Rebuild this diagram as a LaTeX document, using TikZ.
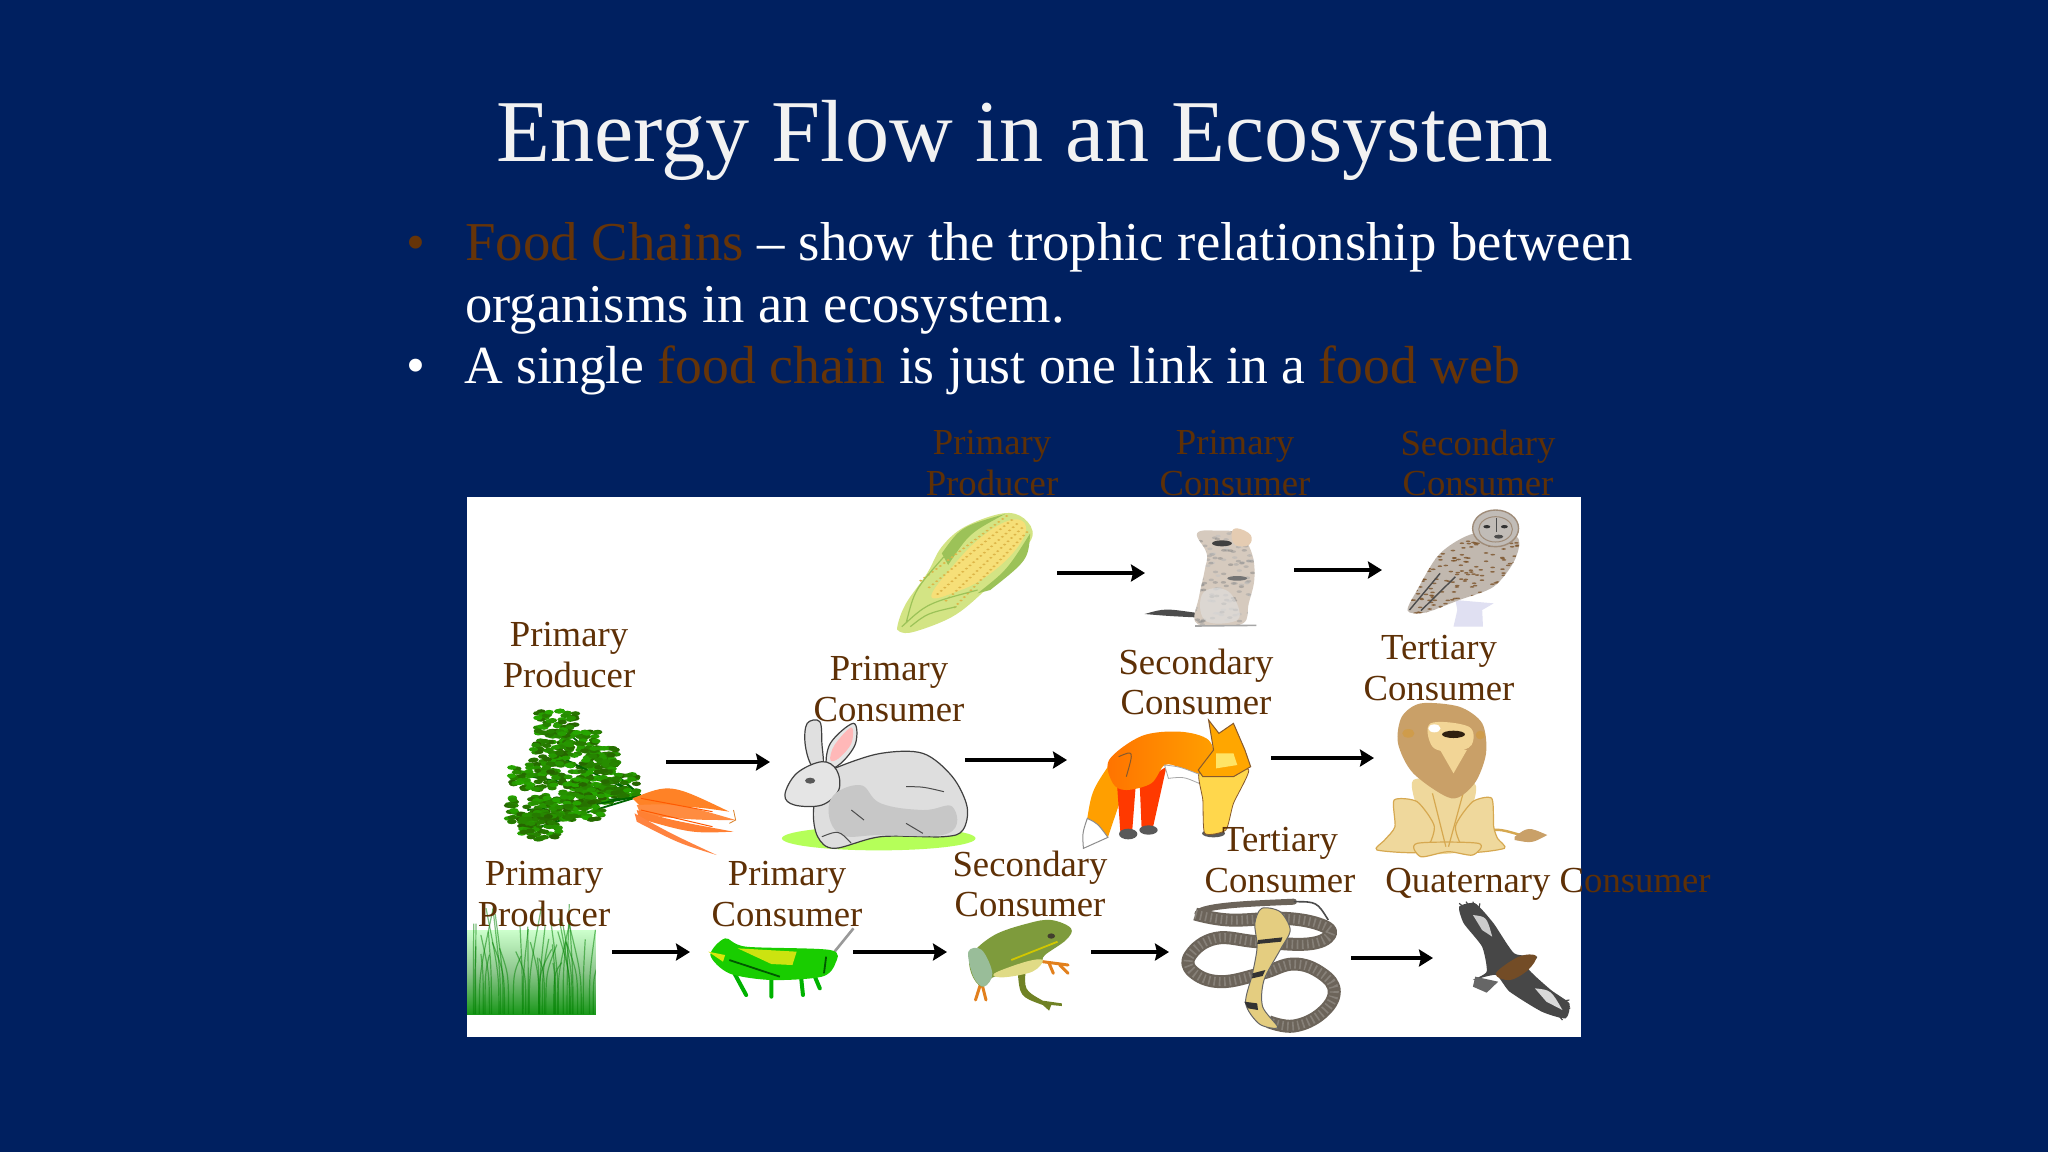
\documentclass[tikz,border=0pt]{standalone}
\usepackage{fontspec}
\setmainfont{Liberation Serif}
\usetikzlibrary{arrows.meta}
\definecolor{navy}{HTML}{002060}
\definecolor{brownt}{HTML}{5E3006}
\definecolor{brownb}{HTML}{663408}
\definecolor{husk}{HTML}{D3E484}
\definecolor{huskd}{HTML}{9CC258}
\definecolor{kern}{HTML}{F6DF78}
\definecolor{kernd}{HTML}{DDB548}
\definecolor{mane}{HTML}{C9A068}
\definecolor{lionb}{HTML}{EFD89C}
\definecolor{lionl}{HTML}{D6A850}
\definecolor{lionf}{HTML}{F2D596}
\definecolor{coil}{HTML}{6C645A}
\definecolor{hood}{HTML}{E4CD80}
\tikzset{
 z1/.style={shift={(460,490)},x=.2104pt,y=-.16667pt},
 z2/.style={shift={(1000,490)},x=.19135pt,y=-.16667pt},
 z3/.style={shift={(460,840)},x=.2104pt,y=-.16667pt},
 z4/.style={shift={(1000,840)},x=.22957pt,y=-.16667pt},
 lab/.style={align=center,text=brownt,font=\fontsize{18.35}{20.2}\selectfont,inner sep=0pt},
 bodyt/.style={anchor=base west,inner sep=0pt,text=white},
 flow/.style={draw=black,line width=2.2pt,-{Stealth[length=7pt,width=8.5pt,inset=1pt]}},
 flowthin/.style={draw=black,line width=1.6pt,-{Stealth[length=7pt,width=8.5pt,inset=1pt]}},
}
\begin{document}
\begin{tikzpicture}[x=.5pt,y=-.5pt]
\useasboundingbox (0,0) rectangle (2048,1152);
\fill[navy] (0,0) rectangle (2048,1152);
\fill[white] (467,497) rectangle (1581,1037);

% ---------- corn
\begin{scope}[z1]
\fill[husk] plot[smooth cycle,tension=.6] coordinates {(1040,405)(1060,340)(1110,250)(1145,170)(1200,110)(1290,70)(1340,85)(1360,140)(1310,220)(1240,310)(1170,380)(1080,425)(1045,425)};
\fill[huskd] (1145,190)..controls(1190,110)..(1295,72)..controls(1210,130)..(1160,225)--cycle;
\fill[huskd] (1230,310)..controls(1300,240)..(1355,130)..controls(1350,210)..(1260,300)--cycle;
\fill[kern] plot[smooth cycle,tension=.7] coordinates {(1120,320)(1170,230)(1240,140)(1310,90)(1345,110)(1320,180)(1250,260)(1180,305)};
\foreach \t in {0,.045,...,1}{\foreach \s in {-2,-1,0,1,2}{
  \fill[kernd] ({1135+\t*190+\s*(20-8*\t)},{312-\t*212+\s*(20-8*\t)}) circle[x radius=4,y radius=3];}}
\draw[huskd,line width=.6pt] (1050,410)..controls(1110,340)..(1230,300) (1060,400)..controls(1080,300)..(1150,200) (1070,410)..controls(1110,370)..(1180,350);
\end{scope}

% ---------- carrot
\begin{scope}[z1]
\pgfmathsetseed{17}
\foreach \cx/\cy in {230/700,280/760,330/810,220/790,170/860,260/880,160/960,225/950,320/900,190/1010,375/880,290/950}{
  \draw[green!40!black,line width=.9pt] (430,918)--(\cx,\cy);
  \foreach \i in {1,...,60}{
    \pgfmathsetmacro\px{\cx+(rnd-.5)*95}\pgfmathsetmacro\py{\cy+(rnd-.5)*78}
    \pgfmathsetmacro\sh{28+rnd*32}
    \fill[green!\sh!black!85!yellow] (\px,\py) circle[x radius=11,y radius=7];}}
\fill[orange!85!red!85!white] (410,925)..controls(500,880)..(640,965)..controls(560,950)..(430,950)--cycle;
\fill[orange!80!red!75!white] (420,945)..controls(520,940)..(655,990)..controls(560,990)..(430,975)--cycle;
\fill[orange!75!red!80!white] (420,960)..controls(500,990)..(650,1025)..controls(550,1030)..(425,985)--cycle;
\fill[orange!70!red!75!white] (415,970)..controls(500,1030)..(610,1095)..controls(520,1060)..(420,995)--cycle;
\draw[orange!70!red,line width=.5pt] (430,925)--(600,965) (430,960)--(600,1010);
\draw[brown!60!orange,line width=.4pt] (650,960)--(655,990)--(640,1000);
\end{scope}

% ---------- rabbit
\begin{scope}[z1]
\fill[green!45!yellow!65!white] (995,1045) ellipse[x radius=230,y radius=36];
\begin{scope}[draw=black!75,line width=.6pt]
\filldraw[fill=black!12] plot[smooth cycle,tension=.6] coordinates {(825,700)(855,695)(860,760)(862,830)(835,825)(820,760)};
\filldraw[fill=black!10] plot[smooth cycle,tension=.6] coordinates {(880,760)(935,700)(940,760)(905,820)(872,835)};
\fill[pink!80!red!70!white] plot[smooth cycle,tension=.6] coordinates {(890,765)(930,712)(930,760)(900,805)(880,810)};
\filldraw[fill=black!13] plot[smooth cycle,tension=.55] coordinates {(860,860)(900,830)(1000,790)(1100,790)(1170,860)(1205,950)(1195,1020)(1150,1040)(1000,1040)(890,1075)(850,1040)(840,960)};
\filldraw[fill=black!10] plot[smooth cycle,tension=.6] coordinates {(772,915)(800,850)(860,815)(895,840)(900,900)(860,945)(795,945)};
\end{scope}
\fill[black!22] plot[smooth cycle,tension=.7] coordinates {(880,930)(950,885)(1000,940)(1100,960)(1170,950)(1160,1030)(1000,1035)(900,1030)};
\fill[black!65] (832,872) ellipse[x radius=12,y radius=9];
\draw[black!70,line width=.5pt] (1060,890)..controls(1100,890)..(1150,905) (930,960)--(960,990) (1060,1000)--(1100,1030) (860,1040)..controls(900,1020)..(930,1060);
\end{scope}

% ---------- mouse
\begin{scope}[z2]
\fill[black!70] (378,372)..controls(430,355)..(510,368)--(510,382)..controls(440,378)..(378,372)--cycle;
\begin{scope}
\clip plot[smooth cycle,tension=.7] coordinates {(515,130)(570,122)(620,130)(655,180)(665,260)(650,340)(635,400)(560,405)(510,395)(520,320)(535,240)(540,190)};
\fill[black!38!brown!30!white] (500,110) rectangle (680,420);
\pgfmathsetseed{9}
\foreach \i in {1,...,130}{
  \pgfmathsetmacro\px{505+rnd*165}\pgfmathsetmacro\py{120+rnd*290}\pgfmathsetmacro\sh{22+rnd*28}
  \fill[black!\sh,opacity=.5] (\px,\py) circle[x radius=7,y radius=4];}
\fill[black!12,opacity=.6] plot[smooth cycle,tension=.7] coordinates {(530,310)(590,300)(625,360)(610,395)(535,390)};
\end{scope}
\fill[brown!40!white] plot[smooth cycle,tension=.7] coordinates {(605,130)(620,115)(655,135)(650,165)(615,165)};
\fill[black!75] (580,160) ellipse[x radius=26,y radius=9];
\fill[black!55] (620,265) ellipse[x radius=26,y radius=7];
\draw[black!35,line width=.8pt] (510,408)--(670,406);
\end{scope}

% ---------- owl
\begin{scope}[z2]
\fill[black!42!blue!12!white] (1190,330)--(1290,340)--(1260,360)--(1262,410)--(1185,410)--(1195,360)--cycle;
\begin{scope}
\clip plot[smooth cycle,tension=.5] coordinates {(1240,130)(1350,140)(1345,210)(1290,290)(1200,330)(1110,368)(1065,362)(1090,300)(1150,190)};
\fill[brown!40!black!35!white] (1050,110) rectangle (1360,380);
\pgfmathsetseed{4}
\foreach \i in {1,...,210}{
  \pgfmathsetmacro\px{1065+rnd*290}\pgfmathsetmacro\py{125+rnd*245}
  \fill[brown!65!black,opacity=.8] (\px,\py) circle[x radius=6,y radius=2.5];}
\end{scope}
\draw[black!70,line width=.7pt] (1070,360)--(1150,250) (1100,362)--(1190,260);
\fill[brown!25!black!30!white] (1295,115) ellipse[x radius=60,y radius=55];
\draw[brown!50!black!60!white,line width=.7pt] (1295,115) ellipse[x radius=60,y radius=55];
\draw[brown!50!black!60!white,line width=.5pt] (1295,118) ellipse[x radius=44,y radius=38];
\fill[black!80] (1272,110) ellipse[x radius=9,y radius=5] (1318,110) ellipse[x radius=9,y radius=5];
\fill[black!70] (1303,140) ellipse[x radius=12,y radius=6];
\draw[black!70,line width=.7pt] (1298,85)--(1298,125);
\end{scope}

% ---------- fox
\begin{scope}[z2]
\fill[orange!75!yellow] (300,800)..controls(240,900)..(228,985)--(282,1042)..controls(300,980)..(330,880)--cycle;
\fill[white,draw=black!45,line width=.5pt] (218,1075)..controls(215,1030)..(228,985)..controls(255,1000)..(282,1042)--cycle;
\fill[red!55!orange] (305,870)--(355,880)--(345,1030)--(315,1035)--cycle;
\fill[red!55!orange] (365,880)--(435,830)--(400,1010)--(370,1015)--cycle;
\fill[black!65] (335,1032) ellipse[x radius=24,y radius=16] (388,1020) ellipse[x radius=24,y radius=14] (558,1030) ellipse[x radius=30,y radius=12];
\shade[left color=orange!90!red,right color=orange!75!yellow] plot[smooth cycle,tension=.55] coordinates {(285,810)(370,738)(470,725)(545,750)(560,820)(520,850)(470,832)(430,825)(395,880)(330,900)(295,880)};
\fill[white,draw=black!35,line width=.4pt] (430,825)..controls(470,830)..(525,855)--(520,880)..controls(480,860)..(440,865)--cycle;
\fill[orange!45!yellow!70!white,draw=brown!70!black,line width=.4pt] plot[smooth cycle,tension=.35] coordinates {(520,850)(580,830)(650,840)(610,940)(590,1020)(535,1030)(530,930)};
\fill[orange!70!yellow,draw=brown!70!black,line width=.5pt] (545,690)--(572,730)--(610,700)--(640,780)--(655,830)--(610,860)--(530,860)--(518,840)--(558,780)--cycle;
\fill[orange!35!yellow!60!white] (565,790)--(610,790)--(620,825)--(565,835)--cycle;
\draw[brown!70!black,line width=.5pt] (310,800)..controls(350,780)..(330,860);
\end{scope}

% ---------- lion
\begin{scope}[z2]
\draw[lionl,line width=1.2pt] (1250,1030)..controls(1300,1015)..(1360,1035);
\fill[mane] (1345,1040)..controls(1380,1010)..(1430,1035)..controls(1390,1060)..(1345,1050)--cycle;
\fill[lionb] plot[smooth cycle,tension=.4] coordinates {(1080,870)(1240,880)(1220,1000)(1200,1085)(1090,1085)(1100,1000)};
\filldraw[fill=lionb,draw=lionl,line width=.6pt] plot[smooth cycle,tension=.4] coordinates {(1030,930)(1090,935)(1135,1010)(1105,1085)(985,1080)(1005,1050)(1032,1010)};
\filldraw[fill=lionb,draw=lionl,line width=.6pt] plot[smooth cycle,tension=.4] coordinates {(1285,925)(1235,935)(1190,1010)(1220,1085)(1318,1075)(1300,1045)(1290,1010)};
\filldraw[fill=lionb,draw=lionl,line width=.6pt] plot[smooth cycle,tension=.5] coordinates {(1090,1060)(1250,1060)(1235,1095)(1170,1085)(1100,1100)};
\draw[lionl,line width=.6pt] (1130,910)--(1165,1070) (1210,910)--(1172,1070);
\fill[mane] plot[smooth cycle,tension=.5] coordinates {(1100,640)(1200,650)(1260,700)(1270,790)(1240,880)(1180,925)(1080,850)(1040,760)(1050,680)};
\fill[lionf] plot[smooth cycle,tension=.6] coordinates {(1125,700)(1225,710)(1232,765)(1185,785)(1130,770)};
\fill[lionf] (1150,780)--(1220,780)--(1185,850)--cycle;
\fill[white] (1135,715) ellipse[x radius=16,y radius=12];
\fill[black!75!brown] (1185,733) ellipse[x radius=30,y radius=11];
\fill[lionl!70!brown] (1067,730) circle[x radius=16,y radius=13] (1255,735) circle[x radius=12,y radius=13];
\end{scope}

% ---------- grass
\begin{scope}[z3]
\shade[top color=green!20!white,bottom color=green!55!black!90!white,middle color=green!50!black!45!white] (17,270) rectangle (323,522);
\begin{scope}
\clip (17,165) rectangle (323,522);
\pgfmathsetseed{5}
\foreach \i in {1,...,42}{
  \pgfmathsetmacro\bx{20+rnd*300}\pgfmathsetmacro\tx{\bx+(rnd-.5)*70}\pgfmathsetmacro\ty{190+rnd*180}
  \draw[green!50!black,line width=.6pt,opacity=.5] (\bx,522)..controls(\bx,400)..(\tx,\ty);}
\end{scope}
\end{scope}

% ---------- grasshopper
\begin{scope}[z3]
\draw[black!40,line width=1.3pt] (890,335)--(935,265);
\draw[green!70!black,line width=2pt,line cap=round] (650,395)--(680,465) (740,410)--(740,470) (810,405)--(815,465) (840,400)--(855,445);
\fill[green!78!black!90!yellow] plot[smooth cycle,tension=.5] coordinates {(595,345)(630,295)(680,320)(880,330)(892,370)(860,410)(740,420)(640,400)};
\fill[yellow!85!green] (590,335)--(630,345)--(625,365)--cycle;
\fill[yellow!80!green] (660,325)--(800,335)--(790,375)--(740,372)--cycle;
\draw[green!35!black,line width=.9pt] (640,360)--(760,410) (870,350)--(865,400);
\end{scope}

% ---------- frog
\begin{scope}[z3]
\fill[olive!70!green!80!black] (1345,380)..controls(1340,450)..(1385,482)--(1430,490)--(1430,498)--(1405,495)--(1400,512)--(1385,495)..controls(1330,470)..(1325,390)--cycle;
\draw[orange!55!brown,line width=1.5pt,line cap=round] (1385,365)--(1445,375) (1400,370)--(1410,400) (1425,375)--(1445,400);
\draw[orange!55!brown,line width=1.5pt,line cap=round] (1240,420)--(1225,480) (1240,430)--(1250,480);
\fill[olive!60!green!85!black!85!white] plot[smooth cycle,tension=.6] coordinates {(1215,345)(1270,285)(1350,250)(1405,240)(1452,265)(1440,300)(1390,345)(1380,370)(1340,400)(1270,410)(1240,440)(1215,400)};
\fill[yellow!30!olive!40!white] plot[smooth cycle,tension=.6] coordinates {(1270,400)(1345,365)(1385,360)(1360,395)(1290,412)};
\fill[green!35!black!40!white] plot[smooth cycle,tension=.6] coordinates {(1208,335)(1240,330)(1265,400)(1245,440)(1220,410)};
\draw[yellow!60!olive,line width=.9pt] (1310,360)--(1420,305);
\fill[black!70!olive] (1405,288) circle[x radius=9,y radius=8];
\end{scope}

% ---------- cobra
\begin{scope}[z4]
\draw[coil,line width=3pt,line cap=round] (430,220)..controls(440,195)and(560,190)..(640,185);
\draw[black!70,line width=.8pt] (640,185)..controls(690,185)..(715,240);
\draw[coil,line width=6.5pt,line join=round] plot[smooth,tension=.7] coordinates {(425,222)(500,240)(620,235)(700,255)(718,285)(670,312)(560,305)(470,295)(415,345)(420,395)(480,425)(570,400)(640,372)(700,400)(728,455)(700,520)(640,558)(585,545)};
\draw[black!10,line width=4.5pt,dash pattern=on .8pt off 1.8pt,opacity=.22] plot[smooth,tension=.7] coordinates {(425,222)(500,240)(620,235)(700,255)(718,285)(670,312)(560,305)(470,295)(415,345)(420,395)(480,425)(570,400)(640,372)(700,400)(728,455)(700,520)(640,558)(585,545)};
\fill[hood,draw=black!60,line width=.5pt] plot[smooth cycle,tension=.5] coordinates {(570,205)(610,215)(632,270)(610,330)(575,420)(572,500)(605,562)(565,552)(535,490)(550,400)(560,320)(555,250)};
\fill[black!80] (562,300)--(615,292)--(612,305)--(560,312)--cycle (550,400)--(578,390)--(572,408)--(549,415)--cycle (532,485)--(560,490)--(562,510)--(540,505)--cycle;
\end{scope}

% ---------- eagle
\begin{scope}[z4]
\fill[black!72] plot[smooth cycle,tension=.35] coordinates {(1000,200)(1035,190)(1075,250)(1120,340)(1170,350)(1150,385)(1200,450)(1240,490)(1232,535)(1180,515)(1110,455)(1080,405)(1030,420)(1060,395)(1050,320)(1010,250)};
\foreach \a/\b in {1000/190,1015/185,1030/185,1045/190}{\draw[black!72,line width=.6pt] (\a,\b)--(1040,235);}
\foreach \a/\b in {1240/480,1242/505,1235/525,1225/540}{\draw[black!72,line width=.6pt] (\a,\b)--(1195,490);}
\fill[black!20] (1030,225)..controls(1060,230)..(1072,290)--(1050,270)--cycle;
\fill[black!15] (1165,445)..controls(1200,450)..(1225,510)--(1190,485)--cycle;
\fill[black!60] (1035,410)--(1085,425)--(1060,458)--(1030,440)--cycle;
\fill[brown!60!black] plot[smooth cycle,tension=.6] coordinates {(1080,400)(1130,350)(1168,348)(1150,390)(1110,420)};
\end{scope}

% ---------- arrow anchors
\coordinate (carrotE) at (666,762); \coordinate (rabbitW) at (770,762);
\coordinate (rabbitE) at (965,760); \coordinate (foxW) at (1067,760);
\coordinate (foxE) at (1271,758); \coordinate (lionW) at (1374,758);
\coordinate (cornE) at (1057,573); \coordinate (mouseW) at (1145,573);
\coordinate (mouseE) at (1294,570); \coordinate (owlW) at (1382,570);
\coordinate (grassE) at (612,952); \coordinate (hopperW) at (690,952);
\coordinate (hopperE) at (853,952); \coordinate (frogW) at (947,952);
\coordinate (frogE) at (1091,952); \coordinate (cobraW) at (1169,952);
\coordinate (cobraE) at (1351,958); \coordinate (eagleW) at (1433,958);
\draw[flow] (carrotE) -- (rabbitW);
\draw[flow] (rabbitE) -- (foxW);
\draw[flow] (foxE) -- (lionW);
\draw[flow] (cornE) -- (mouseW);
\draw[flowthin] (mouseE) -- (owlW);
\draw[flowthin] (grassE) -- (hopperW);
\draw[flowthin] (hopperE) -- (frogW);
\draw[flowthin] (frogE) -- (cobraW);
\draw[flowthin] (cobraE) -- (eagleW);

% ---------- title and text
\node[anchor=base,inner sep=0pt,text=black!5,font=\fontsize{44.1}{50}\selectfont] (title) at (1025,161) {Energy Flow in an Ecosystem};
\node[bodyt,text=brownb,font=\fontsize{27}{30}\selectfont] (b1) at (406,260) {•};
\node[bodyt,font=\fontsize{27.4}{30}\selectfont] (l1) at (465,260) {\textcolor{brownb}{Food Chains} – show the trophic relationship between};
\node[bodyt,font=\fontsize{27.3}{30}\selectfont] (l2) at (465,322) {organisms in an ecosystem.};
\node[bodyt,font=\fontsize{27}{30}\selectfont] (b2) at (406,383) {•};
\node[bodyt,font=\fontsize{26.8}{30}\selectfont] (l3) at (464,383) {A single \textcolor{brownb}{food chain} is just one link in a \textcolor{brownb}{food web}};

\node[lab] (t1) at (992,463) {Primary\\Producer};
\node[lab] (t2) at (1235,463) {Primary\\Consumer};
\node[lab] (t3) at (1478,463) {Secondary\\Consumer};
\node[lab] (m1) at (569,655) {Primary\\Producer};
\node[lab] (m2) at (889,689) {Primary\\Consumer};
\node[lab] (m3) at (1196,682) {Secondary\\Consumer};
\node[lab] (m4) at (1439,668) {Tertiary\\Consumer};
\node[lab] (g1) at (544,894) {Primary\\Producer};
\node[lab] (g2) at (787,894) {Primary\\Consumer};
\node[lab] (g3) at (1030,884) {Secondary\\Consumer};
\node[lab] (g4) at (1280,860) {Tertiary\\Consumer};
\node[lab] (g5) at (1548,884) {Quaternary Consumer};
\end{tikzpicture}
\end{document}
